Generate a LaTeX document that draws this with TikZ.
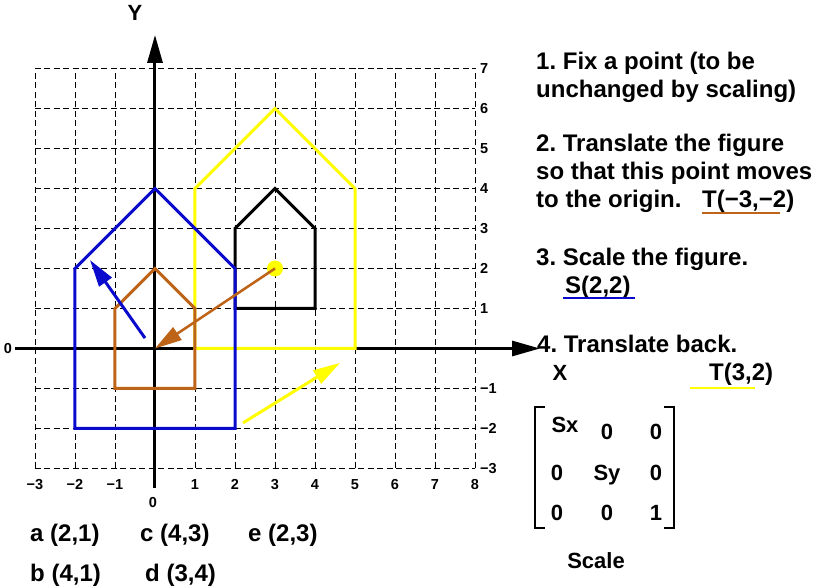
\documentclass[tikz,border=0pt]{standalone}
\usepackage{fontspec}
\setmainfont{Liberation Sans}
\usetikzlibrary{arrows.meta}
\definecolor{housebrown}{RGB}{190,100,25}
\definecolor{houseblue}{RGB}{10,10,205}
\definecolor{houseyellow}{RGB}{255,255,0}
\frenchspacing
\begin{document}
\begin{tikzpicture}[x=40pt, y=40pt]
	% Styles
	\tikzset{
		gridline/.style={line width=0.9pt, dash pattern=on 6pt off 3.5pt},
		axisline/.style={line width=3pt, -{Triangle[length=28pt,width=15pt]}},
		house/.style={line width=3pt, line join=miter},
		move/.style={line width=3pt, -{Triangle[length=27pt,width=15pt]}},
		ticklabel/.style={font=\fontsize{14.5}{17}\selectfont\bfseries, inner sep=0pt},
		txt/.style={font=\fontsize{24}{28}\selectfont\bfseries, inner sep=0pt, anchor=base west},
		entry/.style={font=\fontsize{22}{26}\selectfont\bfseries, inner sep=0pt, anchor=base},
		underline/.style={line width=2pt}
	}
	\useasboundingbox (-3.875,-5.9375) rectangle (16.625,8.7125);

	% Grid and tick labels
	\draw[gridline, step=1] (-3,-3) grid (8,7);
	\foreach \x in {-3,-2,-1,1,2,3,4,5,6,7,8}
	\node[ticklabel] (xt\x) at (\x,-3.41) {\ifnum\x<0 −\the\numexpr-\x\relax\else\x\fi};
	\foreach \y in {-3,-2,-1,1,2,3,4,5,6,7}
	\node[ticklabel, anchor=west] (yt\y) at (8.125,\y) {\ifnum\y<0 −\the\numexpr-\y\relax\else\y\fi};
	\node[ticklabel] (xzero) at (-3.675,0) {0};
	\node[ticklabel] (yzero) at (-0.05,-3.86) {0};

	% Axes
	\coordinate (xstart) at (-3.5,0);
	\coordinate (xend) at (9.625,0);
	\coordinate (ystart) at (0,-3.49);
	\coordinate (yend) at (0,7.84);
	\draw[axisline] (xstart) -- (xend);
	\draw[axisline] (ystart) -- (yend);
	\node[entry] (ylabel) at (-0.5,8.21) {Y};
	\node[entry] (xlabel) at (10.125,-0.79) {X};

	% Houses
	\draw[house, houseyellow] (1,0) -- (5,0) -- (5,4) -- (3,6) -- (1,4) -- cycle;
	\draw[house, black] (2,1) -- (4,1) -- (4,3) -- (3,4) -- (2,3) -- cycle;
	\draw[house, houseblue] (-2,-2) -- (2,-2) -- (2,2) -- (0,4) -- (-2,2) -- cycle;
	\draw[house, housebrown] (-1,-1) -- (1,-1) -- (1,1) -- (0,2) -- (-1,1) -- cycle;

	% Fixed point and moves
	\node[circle, fill=houseyellow, minimum size=16pt, inner sep=0pt] (fix) at (3,2) {};
	\coordinate (origin) at (0,0);
	\coordinate (bluestart) at (-0.25,0.26);
	\coordinate (blueend) at (-1.625,2.21);
	\coordinate (yellowstart) at (2.2,-1.86);
	\coordinate (yellowend) at (4.625,-0.36);
	\draw[move, housebrown, line width=2.5pt] (fix.center) -- (origin);
	\draw[move, houseblue] (bluestart) -- (blueend);
	\draw[move, houseyellow] (yellowstart) -- (yellowend);

	% Steps
	\node[txt] (step1a) at (9.525,6.9625) {1. Fix a point (to be};
	\node[txt] (step1b) at (9.525,6.2625) {unchanged by scaling)};
	\node[txt] (step2a) at (9.525,4.92) {2. Translate the figure};
	\node[txt] (step2b) at (9.525,4.2125) {so that this point moves};
	\node[txt] (step2c) at (9.525,3.5125) {to the origin.};
	\node[txt] (tmove) at (13.675,3.5125) {T(−3,−2)};
	\node[txt] (step3) at (9.525,2.0625) {3. Scale the figure.};
	\node[txt] (smove) at (10.25,1.3625) {S(2,2)};
	\node[txt] (step4) at (9.55,-0.1125) {4. Translate back.};
	\node[txt] (tback) at (13.85,-0.79) {T(3,2)};

	% Underlines
	\draw[underline, housebrown] (13.675,3.3875) -- (15.625,3.3875);
	\draw[underline, houseblue] (10.2,1.2625) -- (12.0,1.2625);
	\draw[underline, houseyellow] (13.375,-0.9875) -- (15.0,-0.9875);

	% Scale matrix
	\draw[line width=2pt] (9.75,-1.4625) -- (9.5,-1.4625) -- (9.5,-4.4875) -- (9.75,-4.4875);
	\draw[line width=2pt] (12.725,-1.4625) -- (12.975,-1.4625) -- (12.975,-4.4875) -- (12.725,-4.4875);
	\node[entry] (m11) at (10.25,-2.1125) {Sx};
	\node[entry] (m12) at (11.3,-2.2875) {0};
	\node[entry] (m13) at (12.525,-2.2875) {0};
	\node[entry] (m21) at (10.05,-3.2875) {0};
	\node[entry] (m22) at (11.3,-3.2875) {Sy};
	\node[entry] (m23) at (12.525,-3.2875) {0};
	\node[entry] (m31) at (10.05,-4.2875) {0};
	\node[entry] (m32) at (11.3,-4.2875) {0};
	\node[entry] (m33) at (12.525,-4.2875) {1};
	\node[entry] (scale) at (11.025,-5.4875) {Scale};

	% Points
	\node[txt] (pa) at (-3.125,-4.8375) {a (2,1)};
	\node[txt] (pc) at (-0.375,-4.8375) {c (4,3)};
	\node[txt] (pe) at (2.325,-4.8375) {e (2,3)};
	\node[txt] (pb) at (-3.125,-5.8375) {b (4,1)};
	\node[txt] (pd) at (-0.25,-5.8375) {d (3,4)};
\end{tikzpicture}
\end{document}
